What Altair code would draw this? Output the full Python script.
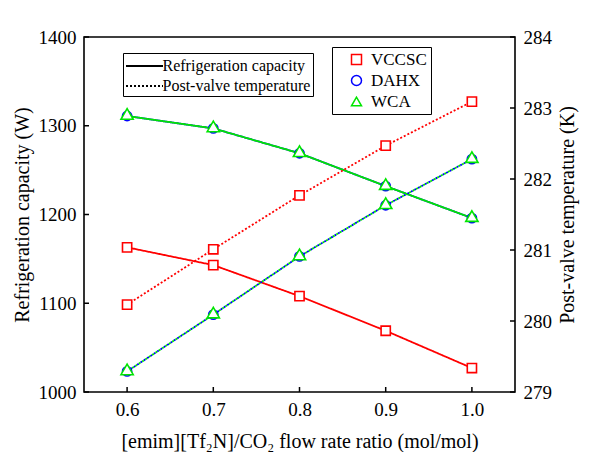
import pandas as pd
import altair as alt

FONT = "Liberation Serif"
W, H = 431, 355

ratio = [0.6, 0.7, 0.8, 0.9, 1.0]
systems = ["VCCSC", "DAHX", "WCA"]
sys_colors = ["#ff0000", "#0000ff", "#00e600"]
sys_shapes = ["square", "circle", "triangle-up"]
kinds = ["Refrigeration capacity", "Post-valve temperature"]

# refrigeration capacity (W)
cap_vccsc = [1163, 1143, 1108, 1069, 1027]
cap_dahx = [1311, 1297, 1269, 1232, 1196]
cap_wca = [1311, 1297, 1269, 1232, 1196]

# post-valve temperature (K)
temp_vccsc = [280.23, 281.01, 281.77, 282.47, 283.09]
temp_dahx = [279.29, 280.09, 280.91, 281.63, 282.28]
temp_wca = [279.29, 280.09, 280.91, 281.63, 282.28]

x_ticks = [0.6, 0.7, 0.8, 0.9, 1.0]
cap_ticks = [1000, 1100, 1200, 1300, 1400]
temp_ticks = [279, 280, 281, 282, 283, 284]

df = pd.DataFrame({
    "ratio": ratio * 3,
    "system": [s for s in systems for _ in ratio],
    "cap": cap_vccsc + cap_dahx + cap_wca,
    "temp": temp_vccsc + temp_dahx + temp_wca,
})

x_enc = alt.X(
    "ratio:Q",
    scale=alt.Scale(domain=[0.55, 1.05], nice=False, zero=False),
    axis=alt.Axis(values=x_ticks, format=".1f", ticks=False, domain=False, grid=False,
                  title="[emim][Tf₂N]/CO₂ flow rate ratio (mol/mol)",
                  labelFont=FONT, titleFont=FONT,
                  labelPadding=8, titlePadding=12, labelFontSize=19, titleFontSize=20),
)
cap_scale = alt.Scale(domain=[1000, 1400], nice=False, zero=False)
cap_axis = alt.Axis(values=cap_ticks, format="d", ticks=False, domain=False, grid=False,
                    title="Refrigeration capacity (W)", labelFont=FONT, titleFont=FONT,
                    labelPadding=8, titlePadding=6, labelFontSize=19, titleFontSize=20)
temp_scale = alt.Scale(domain=[279, 284], nice=False, zero=False)
temp_axis = alt.Axis(orient="right", values=temp_ticks, format="d", ticks=False, domain=False,
                     grid=False, title="Post-valve temperature (K)", titleAngle=270,
                     titleBaseline="top", labelFont=FONT, titleFont=FONT,
                     labelPadding=8, titlePadding=6, labelFontSize=19, titleFontSize=20)

dash_legend = alt.Legend(title=None, orient="none", legendX=39, legendY=16, padding=2,
                         strokeColor="black", symbolType="M-1.85,0H1.85", symbolSize=400,
                         symbolStrokeColor="black", symbolStrokeWidth=1.8,
                         symbolOffset=8.5, labelOffset=7, labelFont=FONT,
                         labelFontSize=16, rowPadding=1)
sys_legend = alt.Legend(title=None, orient="none", legendX=248, legendY=10, padding=4,
                        strokeColor="black", symbolOffset=12, symbolSize=100,
                        symbolStrokeWidth=1.5, labelOffset=6, labelFont=FONT,
                        labelFontSize=17, rowPadding=3)

# line colours get their own scale (domain listed in another order so that
# its hidden legend is not merged with the marker legend)
line_order = ["DAHX", "VCCSC", "WCA"]
stroke_line = alt.Stroke("system:N",
                         scale=alt.Scale(domain=line_order,
                                         range=[sys_colors[systems.index(s)] for s in line_order]),
                         legend=None)
color_pt = alt.Color("system:N", scale=alt.Scale(domain=systems, range=sys_colors),
                     legend=sys_legend)
shape_pt = alt.Shape("system:N", scale=alt.Scale(domain=systems, range=sys_shapes),
                     legend=sys_legend)
dash = alt.StrokeDash("kind:N", scale=alt.Scale(domain=kinds, range=[[1, 0], [2, 2]]),
                      legend=dash_legend)

base = alt.Chart(df)
not_wca = alt.datum.system != "WCA"
is_wca = alt.datum.system == "WCA"


def series_layers(y_enc, kind):
    # lines first (WCA last, dash shifted so green and blue dots alternate), then markers
    b = base.transform_calculate(kind=f"'{kind}'")
    lines = b.transform_filter(not_wca).mark_line(strokeWidth=1.8).encode(
        x=x_enc, y=y_enc, stroke=stroke_line, strokeDash=dash)
    lines_wca = b.transform_filter(is_wca).mark_line(strokeWidth=1.8, strokeDashOffset=2).encode(
        x=x_enc, y=y_enc, stroke=stroke_line, strokeDash=dash)
    pts = base.transform_filter(not_wca).mark_point(
        filled=False, fill="white", size=85, strokeWidth=1.6, opacity=1).encode(
        x=x_enc, y=y_enc, color=color_pt, shape=shape_pt)
    pts_wca = base.transform_filter(is_wca).mark_point(
        filled=False, fill="white", size=150, strokeWidth=1.6, opacity=1, yOffset=-2).encode(
        x=x_enc, y=y_enc, color=color_pt, shape=shape_pt)
    return [lines, lines_wca, pts, pts_wca]


# left axis: refrigeration capacity
cap_y = alt.Y("cap:Q", scale=cap_scale, axis=cap_axis)
cap_tick_marks = alt.Chart(pd.DataFrame({"cap": cap_ticks})).mark_rule(
    color="black", strokeWidth=1.5).encode(y=cap_y, x=alt.value(0), x2=alt.value(5))
x_tick_marks = alt.Chart(pd.DataFrame({"ratio": x_ticks})).mark_rule(
    color="black", strokeWidth=1.5).encode(x=x_enc, y=alt.value(H), y2=alt.value(H - 5))

# right axis: post-valve temperature
temp_y = alt.Y("temp:Q", scale=temp_scale, axis=temp_axis)
temp_tick_marks = alt.Chart(pd.DataFrame({"temp": temp_ticks})).mark_rule(
    color="black", strokeWidth=1.5).encode(y=temp_y, x=alt.value(W - 5), x2=alt.value(W))

left = alt.layer(cap_tick_marks, x_tick_marks, *series_layers(cap_y, kinds[0]))
right = alt.layer(temp_tick_marks, *series_layers(temp_y, kinds[1]))

chart = alt.layer(left, right).resolve_scale(y="independent").properties(
    width=W, height=H,
    autosize=alt.AutoSizeParams(type="none"),
    padding={"left": 76, "top": 29, "right": 69, "bottom": 60},
).configure(
    font=FONT
).configure_view(
    stroke="black", strokeWidth=1.6
).configure_axis(
    labelFont=FONT, titleFont=FONT, labelColor="black", titleColor="black",
    titleFontWeight="normal"
).configure_legend(
    labelFont=FONT, labelColor="black"
)

chart.save("out.html", embed_options={"renderer": "svg", "actions": False})
